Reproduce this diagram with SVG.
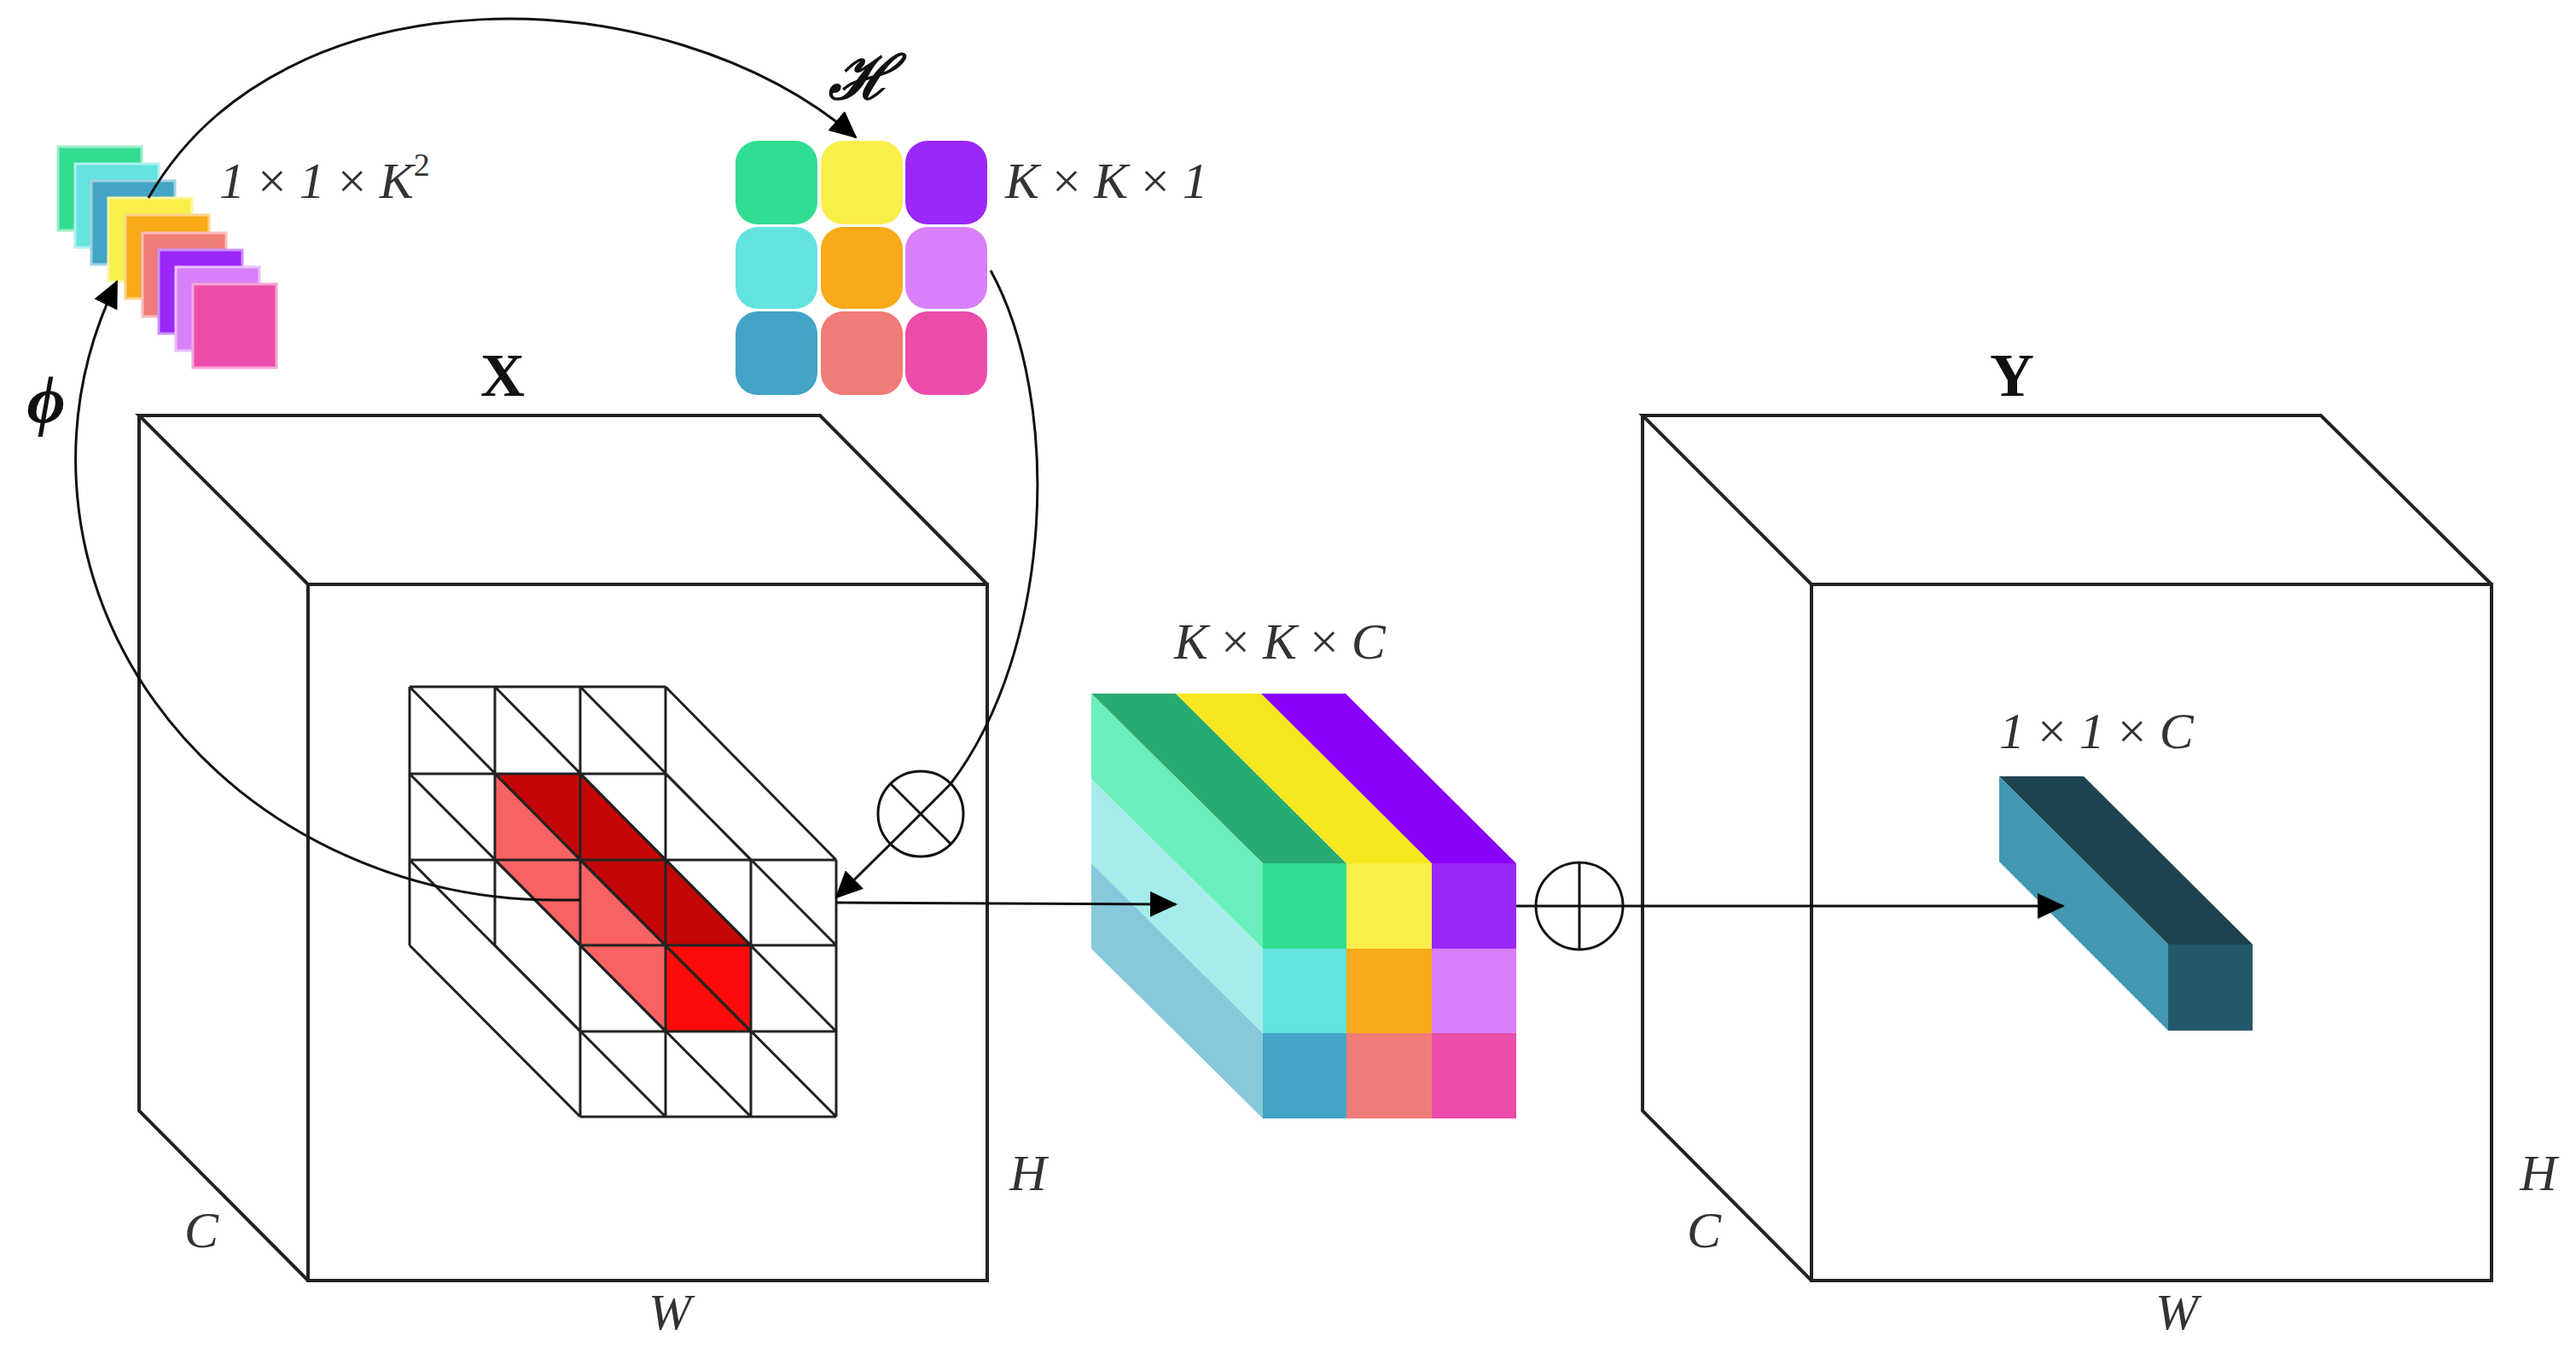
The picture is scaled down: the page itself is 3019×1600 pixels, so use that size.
<svg xmlns="http://www.w3.org/2000/svg" width="3019" height="1600" viewBox="0 0 3019 1600">
<style>
.edge{fill:none;stroke:#222;stroke-width:4;stroke-linejoin:miter}
.g{fill:none;stroke:#222;stroke-width:3}
.c{fill:none;stroke:#111;stroke-width:3}
.m{font-family:"Liberation Serif",serif;font-style:italic;font-size:60px;fill:#333}
.n{font-style:normal}
.b{font-family:"Liberation Serif",serif;font-weight:bold;font-size:72px;fill:#111}
</style>
<defs>
<marker id="ah" viewBox="0 0 10 10" refX="9" refY="5" markerWidth="8" markerHeight="8" markerUnits="userSpaceOnUse" orient="auto" style="overflow:visible">
<path d="M0,0 L10,5 L0,10 z" fill="#000" transform="scale(3.2) translate(-7,-5) translate(7,5) translate(-7,-5)"/>
</marker>
<marker id="a" viewBox="0 0 32 30" refX="30" refY="15" markerWidth="32" markerHeight="30" markerUnits="userSpaceOnUse" orient="auto">
<path d="M0,0 L32,15 L0,30 z" fill="#000"/>
</marker>
</defs>

<g id="cubeX">
<path class="edge" d="M361,685 L163,487 L961,487 L1157,685 M163,487 L163,1302 L361,1501"/>
<rect class="edge" x="361" y="685" width="796" height="816"/>
<text class="b" x="589" y="464" text-anchor="middle">X</text>
<text class="m" x="236" y="1462" text-anchor="middle">C</text>
<text class="m" x="785" y="1558" text-anchor="middle">W</text>
<text class="m" x="1205" y="1395" text-anchor="middle">H</text>
</g>

<g id="kernelGrid">
<polygon points="580,907 680,907 880,1108 780,1108" fill="#c40606"/>
<polygon points="580,907 780,1108 780,1209 580,1008" fill="#f86262"/>
<rect x="780" y="1108" width="100" height="101" fill="#ff0a0a"/>
<path class="g" d="M480,805 H780 M480,907 H780 M480,1008 H980 M680,1108 H980 M680,1209 H980 M680,1309 H980
M480,805 V1108 M580,805 V1108 M680,805 V1309 M780,805 V1309 M880,1008 V1309 M980,1008 V1309
M480,805 L680,1008 M580,805 L780,1008 M680,805 L880,1008 M780,805 L980,1008
M480,907 L680,1108 M580,907 L780,1108 M680,907 L880,1108 M780,907 L980,1108
M480,1008 L680,1209 M580,1008 L780,1209 M680,1008 L880,1209 M780,1008 L980,1209
M480,1108 L680,1309 M580,1108 L780,1309 M680,1108 L880,1309 M780,1108 L980,1309"/>
</g>

<g id="stack">
<rect x="68" y="172" width="98" height="98" fill="#33dd90" stroke="#9cedc7" stroke-width="3"/>
<rect x="88" y="192" width="98" height="98" fill="#66e3e0" stroke="#b0f0ee" stroke-width="3"/>
<rect x="107" y="212" width="98" height="98" fill="#44a4c5" stroke="#a0d0e0" stroke-width="3"/>
<rect x="127" y="232" width="98" height="98" fill="#f9ef4a" stroke="#fcf6a4" stroke-width="3"/>
<rect x="147" y="252" width="98" height="98" fill="#f8aa18" stroke="#fbd48c" stroke-width="3"/>
<rect x="167" y="273" width="98" height="98" fill="#f07c77" stroke="#f7bdbb" stroke-width="3"/>
<rect x="186" y="293" width="98" height="98" fill="#9b27f8" stroke="#cd93fb" stroke-width="3"/>
<rect x="206" y="313" width="98" height="98" fill="#d880f9" stroke="#ebc0fc" stroke-width="3"/>
<rect x="226" y="333" width="98" height="98" fill="#ec4dab" stroke="#f5a6d5" stroke-width="3"/>
<text class="m" x="257" y="232">1<tspan class="n"> × </tspan>1<tspan class="n"> × </tspan>K<tspan font-size="38" dy="-26" class="n">2</tspan></text>
</g>

<g id="H">
<rect x="862" y="165" width="96" height="98" rx="26" fill="#31dd90"/>
<rect x="962" y="165" width="96" height="98" rx="26" fill="#f9ef4a"/>
<rect x="1061" y="165" width="96" height="98" rx="26" fill="#9b27f8"/>
<rect x="862" y="266" width="96" height="96" rx="26" fill="#65e3e0"/>
<rect x="962" y="266" width="96" height="96" rx="26" fill="#f8aa18"/>
<rect x="1061" y="266" width="96" height="96" rx="26" fill="#d880f9"/>
<rect x="862" y="365" width="96" height="98" rx="26" fill="#43a4c5"/>
<rect x="962" y="365" width="96" height="98" rx="26" fill="#f07c77"/>
<rect x="1061" y="365" width="96" height="98" rx="26" fill="#ec4dab"/>
<text class="m" x="1178" y="232">K<tspan class="n"> × </tspan>K<tspan class="n"> × </tspan>1</text>
<text x="1009" y="116" text-anchor="middle" font-family="DejaVu Serif,serif" font-weight="bold" font-style="italic" font-size="72" fill="#111">ℋ</text>
</g>

<g id="phiLabel">
<text x="54" y="495" text-anchor="middle" font-family="Liberation Serif,serif" font-weight="bold" font-style="italic" font-size="78" fill="#111">ϕ</text>
</g>

<g id="KKC">
<polygon points="1279,813 1378,813 1578,1012 1480,1012" fill="#27ab71"/>
<polygon points="1378,813 1478,813 1678,1012 1578,1012" fill="#f6e71f"/>
<polygon points="1478,813 1577,813 1777,1012 1678,1012" fill="#8800f8"/>
<polygon points="1279,813 1480,1012 1480,1112 1279,913" fill="#6aeebb"/>
<polygon points="1279,913 1480,1112 1480,1211 1279,1012" fill="#a6eceb"/>
<polygon points="1279,1012 1480,1211 1480,1311 1279,1112" fill="#86c9db"/>
<rect x="1480" y="1012" width="98" height="100" fill="#31dd90"/>
<rect x="1578" y="1012" width="100" height="100" fill="#f9ef4a"/>
<rect x="1678" y="1012" width="99" height="100" fill="#9b27f8"/>
<rect x="1480" y="1112" width="98" height="99" fill="#65e3e0"/>
<rect x="1578" y="1112" width="100" height="99" fill="#f8aa18"/>
<rect x="1678" y="1112" width="99" height="99" fill="#d880f9"/>
<rect x="1480" y="1211" width="98" height="100" fill="#43a4c5"/>
<rect x="1578" y="1211" width="100" height="100" fill="#f07c77"/>
<rect x="1678" y="1211" width="99" height="100" fill="#ec4dab"/>
<text class="m" x="1376" y="772">K<tspan class="n"> × </tspan>K<tspan class="n"> × </tspan>C</text>
</g>

<g id="cubeY">
<path class="edge" d="M2123,685 L1925,487 L2720,487 L2920,685 M1925,487 L1925,1302 L2123,1501"/>
<rect class="edge" x="2123" y="685" width="797" height="816"/>
<polygon points="2343,910 2442,910 2640,1107 2541,1107" fill="#1e4350"/>
<polygon points="2343,910 2541,1107 2541,1208 2343,1010" fill="#4397b1"/>
<rect x="2541" y="1107" width="99" height="101" fill="#25596a"/>
<text class="m" x="2343" y="877">1<tspan class="n"> × </tspan>1<tspan class="n"> × </tspan>C</text>
<text class="b" x="2358" y="464" text-anchor="middle">Y</text>
<text class="m" x="1997" y="1462" text-anchor="middle">C</text>
<text class="m" x="2551" y="1558" text-anchor="middle">W</text>
<text class="m" x="2975" y="1395" text-anchor="middle">H</text>
</g>

<g id="ops">
<circle cx="1079" cy="954" r="50" class="c"/>
<path class="c" d="M1044,919 L1114,989 M1114,919 L1044,989"/>
<circle cx="1851" cy="1062" r="51" class="c"/>
<path class="c" d="M1800,1062 H1902 M1851,1011 V1113"/>
</g>

<g id="connectors">
<path class="c" d="M680,1055 L658,1055 A564 516 0 0 1 137,330" marker-end="url(#a)"/>
<path class="c" d="M174,232 C330,-40 780,-30 1003,161" marker-end="url(#a)"/>
<path class="c" d="M1161,317 C1245,470 1235,760 1114,919"/>
<path class="c" d="M1044,989 L980,1052" marker-end="url(#a)"/>
<path class="c" d="M980,1058 L1378,1060" marker-end="url(#a)"/>
<path class="c" d="M1777,1062 L1800,1062 M1902,1062 L2418,1062" marker-end="url(#a)"/>
</g>
</svg>
